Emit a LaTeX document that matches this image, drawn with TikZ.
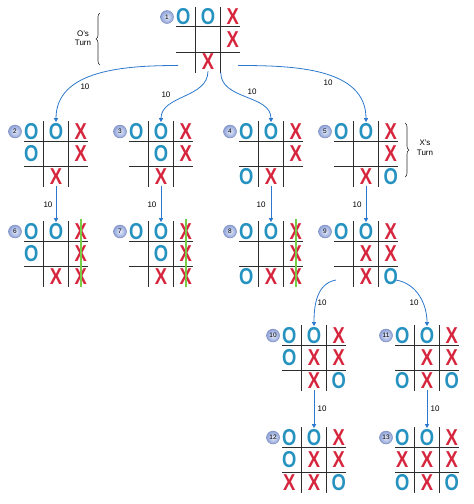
\documentclass[tikz,border=0pt]{standalone}
\usepackage{fontspec}
\setsansfont{Liberation Sans}
\newfontfamily\markfont[FakeStretch=0.8]{Liberation Sans}
\usetikzlibrary{arrows.meta,decorations.pathreplacing}

\definecolor{colO}{RGB}{38,146,192}
\definecolor{colX}{RGB}{214,38,62}
\definecolor{gridcol}{RGB}{45,45,45}
\definecolor{arrowcol}{RGB}{44,120,205}
\definecolor{wincol}{RGB}{120,205,70}
\definecolor{badgeedge}{RGB}{120,135,185}

\tikzset{
	gridline/.style={draw=gridcol, line width=1.1pt},
	tmark/.style={font=\markfont\bfseries\fontsize{23}{23}\selectfont, inner sep=1pt},
	badge/.style={circle, draw=badgeedge, inner color={rgb,255:red,232;green,238;blue,252}, outer color={rgb,255:red,140;green,160;blue,215}, minimum size=13pt, inner sep=0pt, font=\sffamily\fontsize{6.5}{6.5}\selectfont},
	move/.style={draw=arrowcol, line width=.8pt, -{Triangle[width=4pt,length=4pt]}},
	score/.style={font=\sffamily\fontsize{8}{8}\selectfont},
	winline/.style={draw=wincol, line width=1.6pt},
	turn/.style={font=\sffamily\fontsize{8}{9.5}\selectfont, align=center},
	turnbrace/.style={draw=gridcol, decorate, decoration={brace, amplitude=4pt}, line width=.6pt}
}

% board: id, x, y, cells (row by row, - for empty)
\newcommand{\tttboard}[4]{%
	\begin{scope}[shift={(#2,#3)}]
	\draw[gridline] (-32,-12.75)--(32,-12.75);
	\draw[gridline] (-32,12.75)--(32,12.75);
	\draw[gridline] (-12.75,-33)--(-12.75,33);
	\draw[gridline] (12.75,-33)--(12.75,33);
	\node[badge] (n#1) at (-41,-22.5){#1};
	\coordinate (b#1L) at (-30,26);
	\coordinate (b#1R) at (30,26);
	\coordinate (b#1V) at (12.75,33);
	\coordinate (b#1T) at (25,-35);
	\coordinate (b#1B) at (25,33);
	\foreach \m [count=\k from 0] in {#4}{
		\pgfmathsetmacro\cc{mod(\k,3)-1}
		\pgfmathsetmacro\rr{int(\k/3)-1}
		\if\m-\else
		\node[tmark, text=col\m] (m#1-\k) at (\cc*24.8,\rr*22.5){\m};
		\fi
	}
	\end{scope}}

\begin{document}
\begin{tikzpicture}[x=1pt,y=-1pt]
	\useasboundingbox (0,0) rectangle (474,504);
	\tttboard{1}{208}{39.5}{O,O,X,-,-,X,-,X,-}
	\tttboard{2}{56}{154}{O,O,X,O,-,X,-,X,-}
	\tttboard{3}{161}{154}{O,O,X,-,O,X,-,X,-}
	\tttboard{4}{271}{154}{O,O,X,-,-,X,O,X,-}
	\tttboard{5}{366}{154}{O,O,X,-,-,X,-,X,O}
	\tttboard{6}{56}{254}{O,O,X,O,-,X,-,X,X}
	\tttboard{7}{161}{254}{O,O,X,-,O,X,-,X,X}
	\tttboard{8}{271}{254}{O,O,X,-,-,X,O,X,X}
	\tttboard{9}{366}{254}{O,O,X,-,X,X,-,X,O}
	\tttboard{10}{314}{358}{O,O,X,O,X,X,-,X,O}
	\tttboard{11}{427}{358}{O,O,X,-,X,X,O,X,O}
	\tttboard{12}{314}{460}{O,O,X,O,X,X,X,X,O}
	\tttboard{13}{427}{460}{O,O,X,X,X,X,O,X,O}
	% winning columns
	\draw[winline] (b6T)--(b6B);
	\draw[winline] (b7T)--(b7B);
	\draw[winline] (b8T)--(b8B);
	% whose turn
	\node[turn] (oturn) at (83,38){O's\\Turn};
	\draw[turnbrace] (100,65)--(100,13);
	\node[turn] (xturn) at (425,148){X's\\Turn};
	\draw[turnbrace] (405,123)--(405,177);
	% moves
	\draw[move] (b1L) to[out=180,in=90] (m2-1.north);
	\draw[move] (m1-7.south) to[out=-90,in=90] (m3-1.north);
	\draw[move] (b1V) to[out=-90,in=90] (m4-1.north);
	\draw[move] (b1R) to[out=0,in=90] (m5-1.north);
	\foreach \a/\b in {2/6,3/7,4/8,5/9,10/12,11/13}
		\draw[move] (m\a-7.south)--(m\b-1.north);
	\draw[move] (b9L) to[out=190,in=90] (m10-1.north);
	\draw[move] (b9R) to[out=-10,in=90] (m11-1.north);
	% scores
	\node[score] (s2) at (85,87){10};
	\node[score] (s3) at (166,95){10};
	\node[score] (s4) at (252,92){10};
	\node[score] (s5) at (328,83){10};
	\node[score] (s6) at (48,205){10};
	\node[score] (s7) at (152,205){10};
	\node[score] (s8) at (261,205){10};
	\node[score] (s9) at (357,205){10};
	\node[score] (s10) at (322,303){10};
	\node[score] (s11) at (414,303){10};
	\node[score] (s12) at (322,409){10};
	\node[score] (s13) at (435,409){10};
\end{tikzpicture}
\end{document}
